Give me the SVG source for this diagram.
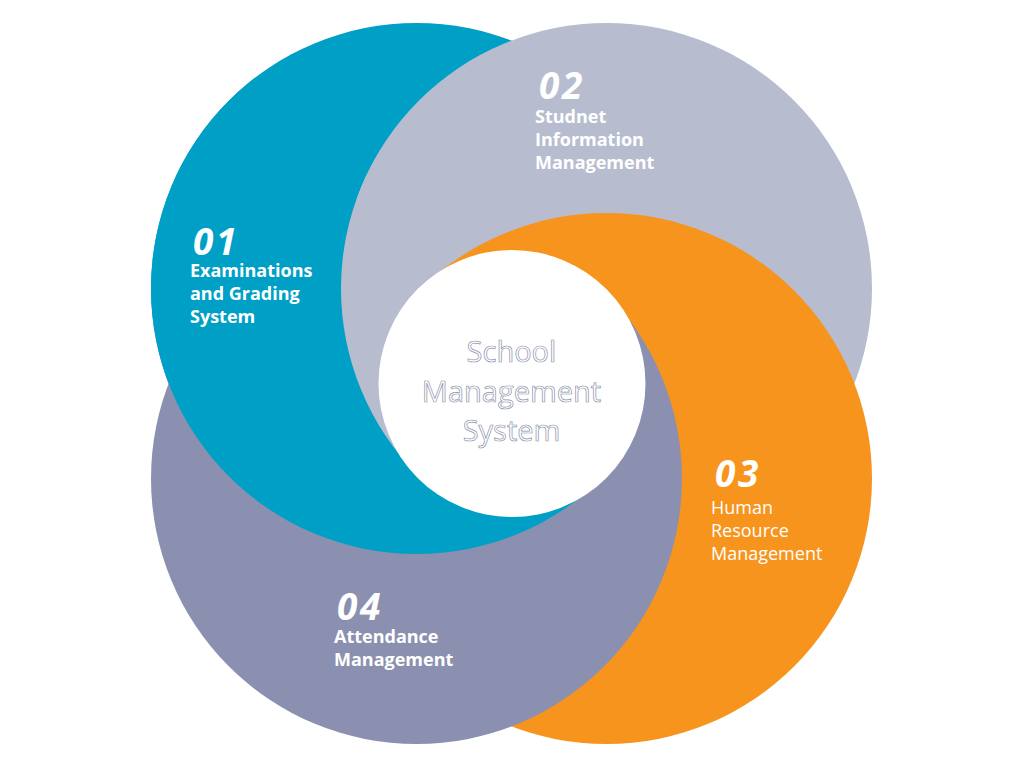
<svg xmlns="http://www.w3.org/2000/svg" xmlns:xlink="http://www.w3.org/1999/xlink" width="1024" height="768" viewBox="0 0 1024 768">
  <style>
    .blue{fill:#00A0C6}
    .grey{fill:#B7BDCF}
    .orange{fill:#F7941E}
    .slate{fill:#8B90B0}
    .num{font-family:"Open Sans","Liberation Sans",sans-serif;font-size:37px;font-weight:700;font-style:italic;letter-spacing:2.5px;fill:#FFFFFF}
    .lbl{font-family:"Open Sans","Liberation Sans",sans-serif;font-size:18px;font-weight:700;fill:#FFFFFF}
    .lbl-r{font-family:"Open Sans","Liberation Sans",sans-serif;font-size:18px;font-weight:400;fill:#FFFFFF}
    .center-txt{font-family:"Open Sans","Liberation Sans",sans-serif;font-size:29px;font-weight:400;fill:#FFFFFF;stroke:#8D93AE;stroke-width:0.7;text-anchor:middle}
  </style>
  <defs>
    <circle id="c1" cx="416.5" cy="288.5" r="265.5"/>
    <circle id="c2" cx="606.5" cy="288.5" r="265.5"/>
    <circle id="c3" cx="606.5" cy="478.5" r="265.5"/>
    <circle id="c4" cx="416.5" cy="478.5" r="265.5"/>
    <clipPath id="notN">
      <polygon points="511.5,383.5 -452.7,-765.6 -988.5,383.5 511.5,1883.5 2011.5,383.5 1572.2,-677.2"/>
    </clipPath>
    <clipPath id="sw">
      <polygon points="511.5,383.5 -452.7,-765.6 -988.5,383.5 -549.2,1444.2 511.5,1883.5 1572.2,1444.2"/>
    </clipPath>
    <clipPath id="w">
      <polygon points="511.5,383.5 -348.9,-845.2 -988.5,383.5 -549.2,1444.2"/>
    </clipPath>
  </defs>

  <g id="pinwheel">
    <use xlink:href="#c1" href="#c1" class="blue"/>
    <use xlink:href="#c2" href="#c2" class="grey"/>
    <use xlink:href="#c3" href="#c3" class="orange"/>
    <use xlink:href="#c4" href="#c4" class="slate" clip-path="url(#notN)"/>
    <use xlink:href="#c1" href="#c1" class="blue" clip-path="url(#sw)"/>
    <use xlink:href="#c2" href="#c2" class="grey" clip-path="url(#w)"/>
  </g>

  <g id="connectors"></g>

  <g id="node-01">
    <text class="num" x="193" y="255">01</text>
    <text class="lbl" x="190" y="277">Examinations</text>
    <text class="lbl" x="190" y="300">and Grading</text>
    <text class="lbl" x="190" y="323">System</text>
  </g>

  <g id="node-02">
    <text class="num" x="539" y="99">02</text>
    <text class="lbl" x="535" y="123">Studnet</text>
    <text class="lbl" x="535" y="146">Information</text>
    <text class="lbl" x="535" y="169">Management</text>
  </g>

  <g id="node-03">
    <text class="num" x="715" y="487">03</text>
    <text class="lbl-r" x="711" y="514">Human</text>
    <text class="lbl-r" x="711" y="537">Resource</text>
    <text class="lbl-r" x="711" y="560">Management</text>
  </g>

  <g id="node-04">
    <text class="num" x="337" y="620">04</text>
    <text class="lbl" x="334" y="643">Attendance</text>
    <text class="lbl" x="334" y="666">Management</text>
  </g>

  <g id="node-center">
    <circle cx="512" cy="383.5" r="133.5" fill="#FFFFFF"/>
    <text class="center-txt" x="511.5" y="362">School</text>
    <text class="center-txt" x="511.5" y="402">Management</text>
    <text class="center-txt" x="511.5" y="441">System</text>
  </g>
</svg>
